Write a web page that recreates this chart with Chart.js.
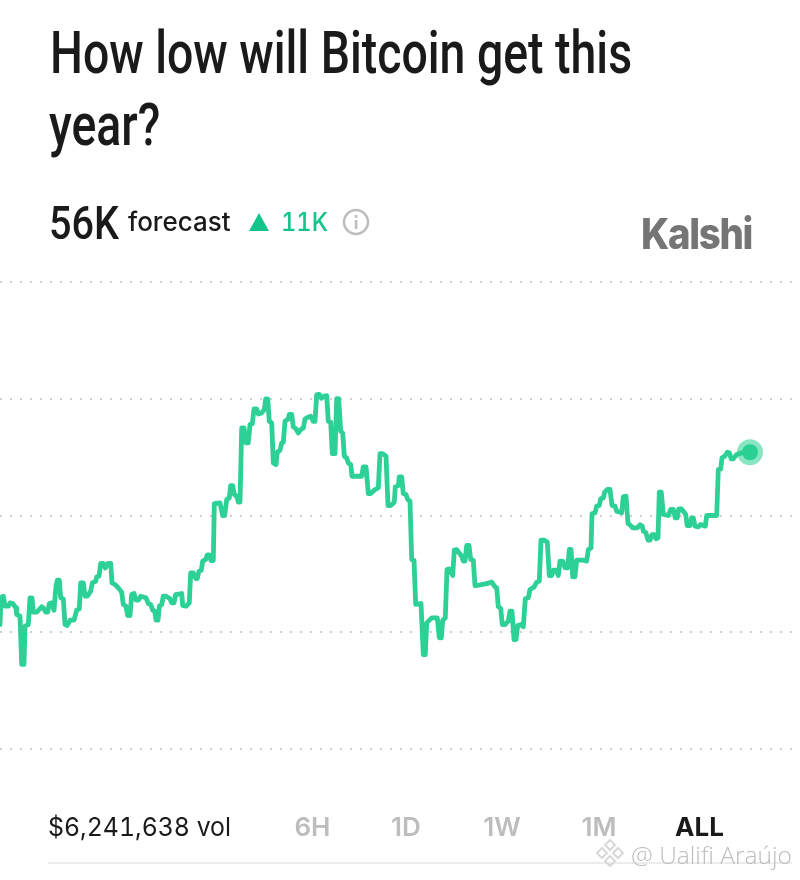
<!DOCTYPE html>
<html><head><meta charset="utf-8">
<script src="https://cdn.jsdelivr.net/npm/chart.js@4"></script>
<style>
html,body{margin:0;padding:0;background:#fff;width:800px;height:880px;overflow:hidden}
#wrap{position:relative;width:800px;height:880px}
canvas{position:absolute;left:0;top:0}
.t{position:absolute;white-space:nowrap;line-height:1;transform-origin:0 0}
.narrow{font-family:Roboto,sans-serif;font-weight:500;color:#1a1a1a}
.ui{font-family:Inter,"Open Sans",sans-serif;font-feature-settings:"tnum"}
.range{font-family:Inter,sans-serif;font-weight:600;font-size:26px;color:#bdbdbd;transform:translateX(-50%)}
</style></head><body>
<div id="wrap">
<canvas id="c" width="800" height="880"></canvas>
<div class="t narrow" data-w="582" id="title1" style="left:50px;top:23px;font-size:60px">How low will Bitcoin get this</div>
<div class="t narrow" data-like="title1" style="left:49px;top:95px;font-size:60px">year?</div>
<div class="t narrow" data-w="70" style="left:49px;top:199.5px;font-size:46px">56K</div>
<div class="t ui" style="left:128px;top:208.5px;font-size:26px;font-weight:500;color:#1a1a1a">forecast</div>
<svg style="position:absolute;left:0;top:0" width="800" height="880">
<polygon points="259,213 269,231 249,231" fill="#12c48b"/>
<circle cx="356" cy="222" r="12" fill="none" stroke="#bdbdbd" stroke-width="2.5"/>
<rect x="354.8" y="220" width="2.6" height="9" fill="#bdbdbd"/><rect x="354.8" y="215" width="2.6" height="2.8" fill="#bdbdbd"/>
<line x1="48" y1="863" x2="792" y2="863" stroke="#ececec" stroke-width="2"/>
<g fill="none" stroke="#d8d8d8" stroke-width="2" transform="translate(610,853)">
<path d="M0,-13 L5,-8 L0,-3 L-5,-8 Z M-8,-5 L-13,0 L-8,5 L-3,0 Z M8,-5 L13,0 L8,5 L3,0 Z M0,3 L5,8 L0,13 L-5,8 Z"/>
</g>
</svg>
<div class="t ui" data-w="47" style="left:281px;top:209.5px;font-size:25px;font-weight:500;color:#12c48b">11K</div>
<div class="t" data-w="111" style="left:641px;top:212px;font-family:Inter,sans-serif;font-weight:800;font-size:43px;letter-spacing:-1.5px;color:#757575">Kalshi</div>
<div class="t ui" data-w="183" style="left:48px;top:813.5px;font-size:26px;color:#1a1a1a">$6,241,638 vol</div>
<div class="t range" style="left:312.5px;top:813.5px">6H</div>
<div class="t range" style="left:406px;top:813.5px">1D</div>
<div class="t range" style="left:502px;top:813.5px">1W</div>
<div class="t range" style="left:599px;top:813.5px">1M</div>
<div class="t range" style="left:699.5px;top:813.5px;color:#1a1a1a;font-weight:700">ALL</div>
<div class="t" data-w="161" style="left:631px;top:843px;font-family:'Open Sans',sans-serif;font-weight:300;font-size:24px;color:#bdbdbd">@ Ualifi Araújo</div>
</div>
<script>
const times=[0,1,3.3,5,8.3,10,12.7,16,16.7,20,21.7,24,25,28.3,30,32,33.3,36.7,41.7,43.3,45.7,47.7,49.3,51.7,54,56,57.3,59.3,60.7,63.3,65,67.3,70,74,76.7,79.3,80.7,83.3,85,87.3,90.7,92.3,95.7,96.7,99,100.7,103.3,105.3,108,110.7,112,115,118.3,121.7,123.3,126,127.7,130,131.7,134,136,138.3,140.7,146,148.3,150.7,152.7,154.7,156,158,159.3,161.7,163.3,166,170,171.7,174,175.7,181.7,182.7,186,189.3,190.7,193.3,195.7,197.3,199,201.3,202.7,205.7,207.3,209.3,211,213.3,214.3,220,222.7,224.7,226.7,229.3,230.7,232.7,234.3,236.7,238.3,240,241.7,244,246,248.3,250,252.3,254,256.7,258.3,261.7,264.3,265.7,267.7,269.3,
271.7,273.3,276,277.3,280,281.7,283.3,285,288.3,289.3,291.7,293.3,296,298.3,300.7,303.3,305,308.3,310.7,313.3,315,316.7,319.3,321.3,324,326.7,328.3,330.7,332.3,335,336.7,338.7,340.7,342.7,344.3,346.7,348.3,350.7,352,361.7,363.3,366,368.3,370.7,375,378.3,380,382.7,386,388,390.7,394.3,395.3,398.3,399.3,401.7,403.3,406,407.7,410,411.7,414,415.7,421,423.3,425.3,426.7,431.7,437.3,439.3,441.3,442.7,445.3,447,449.3,452.7,454.3,456.7,461.7,463.3,465,466.7,469,470.7,473.3,475,480,486.7,491.7,495,496.7,498.3,500.7,502.3,505,508.3,510,512,514,516,517.7,521,
523.3,525.3,528.3,530,534,536.7,539.3,541,544,547.3,549.3,551.7,553.3,556,558.3,560,562.7,565,567.7,569.3,571,572.7,575,576.7,583.3,586.7,588.3,591,592,595,596.7,599.3,600.7,603.3,604.7,607.3,610,612,615,616.7,621.7,623.3,626,628,630.7,632.7,637.3,640,642.3,643.3,646,648,650,652,654,656,658,659.3,661.3,663.3,668.3,670.7,673.3,675.3,677.3,678.7,681.3,684,685.7,687.3,690,691.7,693.3,695,698.3,700.7,705.3,706.7,716.7,718.3,720.7,722,724.7,727.3,729.3,731.3,733.3,736.7,741.7,750];
const values=[40.66,42.95,43.09,42.23,42.23,42.52,42.46,42.09,41.52,41.38,37.24,37.24,40.52,40.66,42.95,42.95,41.72,41.72,42.18,42.09,41.72,41.72,42.46,42.52,41.89,43.95,44.46,44.46,42.95,42.86,40.66,40.58,41.03,41.03,41.89,42,44.23,44.23,43.09,43.09,43.52,44.23,44.37,44.74,44.8,45.89,45.89,45.51,45.89,45.89,44.23,44.09,43.8,43.43,42.38,42.23,41.43,41.43,43.23,43.32,42.75,42.75,43.09,42.95,42.46,42.38,41.89,41.8,41.03,41.03,42.23,42.38,43.09,43.09,42.86,42.52,42.52,43.23,43.32,42.29,42.23,42.52,45.09,45.09,44.6,44.6,45.23,45.31,46.1,46.23,46.63,46.63,46.14,46.14,51.02,51.08,50,50,51.37,51.51,52.56,52.56,51.8,51.65,51.14,51.14,57.5,57.5,56.22,56.22,57.79,57.87,59.13,59.13,58.7,58.79,59.07,59.98,59.98,58.07,
57.93,54.5,54.36,55.42,55.59,56.22,56.27,58.07,58.27,58.67,58.67,57.59,57.42,57.07,57.36,57.5,58.27,58.44,58.5,58.07,58.07,60.36,60.38,60.04,60.21,60.27,58.07,57.99,55.3,55.3,60.01,60.01,57.22,57.07,55.08,54.93,54.5,54.36,53.36,53.36,54.16,54.16,51.88,51.88,52.22,52.36,55.3,55.3,55.08,50.85,50.85,51.14,52.45,52.56,53.31,53.31,51.88,51.8,51.37,51.22,46.23,46.17,42.38,42.46,38.09,38.09,40.8,41.23,41.23,39.52,39.52,41.03,41.23,45.37,45.43,44.86,47.03,47.08,46.51,46.1,46.1,47.43,47.43,46.23,46.17,44,44.06,44.17,44.29,43.89,43.8,42.18,42.06,40.66,40.66,40.95,41.8,41.8,39.38,39.38,40.58,40.66,
40.47,42.87,42.95,43.66,43.86,44.29,44.38,47.89,47.89,47.72,44.86,44.86,45.32,45.32,44.86,46.09,46.09,45.52,45.52,47.09,47.09,44.75,44.75,46.18,46.18,46.09,47.09,47.23,50.14,50.23,50.8,50.86,51.43,51.51,52,52.23,52.23,50.86,50.8,50.37,50.23,51.6,51.66,49.32,49.14,48.94,48.94,49.2,49.09,48.66,48.52,47.89,47.89,48.37,48.37,48,48.09,52,52,50.09,50,50.52,50.52,49.8,49.8,50.57,50.57,50.29,50.09,49.14,49.14,49.8,49.8,49.09,49.03,49.23,49.09,50,50,53.94,53.98,54.94,55.08,55.42,55.37,54.85,54.85,55.22,55.37,55.42];
const gridTicks=[30,40,50,60,70];
const series=times.map((t,i)=>({x:t,y:values[i]}));
const latest=[series[series.length-1]];
document.querySelectorAll('[data-w]').forEach(el=>{
  const k=(+el.dataset.w)/el.getBoundingClientRect().width;
  el.style.transform='scaleX('+k+')';
  el.dataset.k=k;
});
document.querySelectorAll('[data-like]').forEach(el=>{
  el.style.transform='scaleX('+document.getElementById(el.dataset.like).dataset.k+')';
});
Chart.defaults.animation=false;
new Chart(document.getElementById('c'),{
  type:'scatter',
  data:{datasets:[
    {label:'Latest',data:latest,pointRadius:8,backgroundColor:'#2ad092',borderWidth:0,order:0},
    {label:'Latest halo',data:latest,pointRadius:13,backgroundColor:'rgba(42,208,146,.55)',borderWidth:0,order:1},
    {label:'Forecast',data:series,showLine:true,pointRadius:0,borderColor:'#2dd095',borderWidth:4.8,tension:0,borderJoinStyle:'round',borderCapStyle:'round',order:2}
  ]},
  options:{
    responsive:false,
    devicePixelRatio:1,
    layout:{autoPadding:false,padding:{left:0,right:8,top:282,bottom:131}},
    plugins:{legend:{display:false},tooltip:{enabled:false},title:{display:false}},
    scales:{
      x:{type:'linear',display:false,min:0,max:792},
      y:{type:'linear',min:30,max:70,position:'left',
         afterFit(s){s.width=0},
         afterBuildTicks(s){s.ticks=gridTicks.map(v=>({value:v}))},
         ticks:{display:false},
         border:{display:false,dash:[2,8]},
         grid:{drawTicks:false,color:'#cfcfcf',lineWidth:2}}
    }
  }
});
</script>
</body></html>
